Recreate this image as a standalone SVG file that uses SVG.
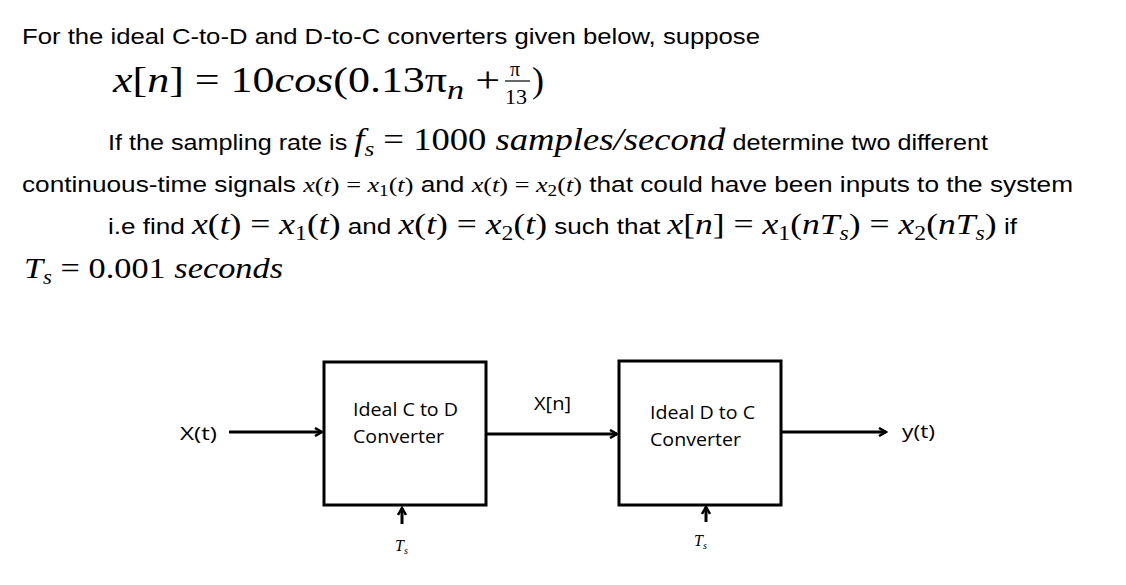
<svg xmlns="http://www.w3.org/2000/svg" width="1126" height="585" viewBox="0 0 1126 585">
<style>
.a{font-family:"Liberation Sans",Arial,sans-serif;font-size:22px;fill:#000}
.t{font-family:"Liberation Serif","Times New Roman",serif;fill:#000}
.i{font-style:italic}
.c{font-family:"Open Sans","Liberation Sans",sans-serif;font-size:18px;fill:#000}
.box{fill:#fff;stroke:#000;stroke-width:3}
.ln{stroke:#000;stroke-width:3;fill:none}
</style>
<defs>
<marker id="ah" markerWidth="10" markerHeight="10" refX="8" refY="5" orient="auto" markerUnits="userSpaceOnUse">
<path d="M1,1 L8,5 L1,9" fill="none" stroke="#000" stroke-width="2.5"/>
</marker>
</defs>
<rect width="1126" height="585" fill="#fff"/>
<text class="a" x="22" y="44" textLength="738" lengthAdjust="spacingAndGlyphs">For the ideal C-to-D and D-to-C converters given below, suppose</text>
<text class="t" x="113" y="92" font-size="36" textLength="387" lengthAdjust="spacingAndGlyphs"><tspan class="i">x</tspan>[<tspan class="i">n</tspan>] = 10<tspan class="i">cos</tspan>(0.13π<tspan class="i" font-size="28" dy="7">n</tspan><tspan dy="-7"> + </tspan></text>
<text class="t" x="510" y="76" font-size="20">π</text>
<line x1="505" y1="81" x2="530" y2="81" stroke="#000" stroke-width="1.2"/>
<text class="t" x="505" y="104" font-size="22">13</text>
<text class="t" x="532" y="92" font-size="36">)</text>
<text class="a" x="108" y="150" textLength="880" lengthAdjust="spacingAndGlyphs">If the sampling rate is <tspan class="t i" font-size="32">f</tspan><tspan class="t i" font-size="22" dy="6">s</tspan><tspan class="t" font-size="32" dy="-6"> =  1000 </tspan><tspan class="t i" font-size="32">samples/second</tspan> determine two different</text>
<text class="a" x="22" y="192" textLength="1051" lengthAdjust="spacingAndGlyphs">continuous-time signals <tspan class="t i">x</tspan><tspan class="t">(</tspan><tspan class="t i">t</tspan><tspan class="t">) = </tspan><tspan class="t i">x</tspan><tspan class="t" font-size="16" dy="4">1</tspan><tspan class="t" dy="-4">(</tspan><tspan class="t i">t</tspan><tspan class="t">)</tspan> and <tspan class="t i">x</tspan><tspan class="t">(</tspan><tspan class="t i">t</tspan><tspan class="t">) = </tspan><tspan class="t i">x</tspan><tspan class="t" font-size="16" dy="4">2</tspan><tspan class="t" dy="-4">(</tspan><tspan class="t i">t</tspan><tspan class="t">)</tspan> that could have been inputs to the system</text>
<text class="a" x="108" y="234" textLength="909" lengthAdjust="spacingAndGlyphs">i.e find <tspan class="t i" font-size="30">x</tspan><tspan class="t" font-size="30">(</tspan><tspan class="t i" font-size="30">t</tspan><tspan class="t" font-size="30">) = </tspan><tspan class="t i" font-size="30">x</tspan><tspan class="t" font-size="20" dy="6">1</tspan><tspan class="t" font-size="30" dy="-6">(</tspan><tspan class="t i" font-size="30">t</tspan><tspan class="t" font-size="30">)</tspan> and <tspan class="t i" font-size="30">x</tspan><tspan class="t" font-size="30">(</tspan><tspan class="t i" font-size="30">t</tspan><tspan class="t" font-size="30">) = </tspan><tspan class="t i" font-size="30">x</tspan><tspan class="t" font-size="20" dy="6">2</tspan><tspan class="t" font-size="30" dy="-6">(</tspan><tspan class="t i" font-size="30">t</tspan><tspan class="t" font-size="30">)</tspan> such that <tspan class="t i" font-size="30">x</tspan><tspan class="t" font-size="30">[</tspan><tspan class="t i" font-size="30">n</tspan><tspan class="t" font-size="30">] = </tspan><tspan class="t i" font-size="30">x</tspan><tspan class="t" font-size="20" dy="6">1</tspan><tspan class="t" font-size="30" dy="-6">(</tspan><tspan class="t i" font-size="30">nT</tspan><tspan class="t i" font-size="20" dy="6">s</tspan><tspan class="t" font-size="30" dy="-6">) = </tspan><tspan class="t i" font-size="30">x</tspan><tspan class="t" font-size="20" dy="6">2</tspan><tspan class="t" font-size="30" dy="-6">(</tspan><tspan class="t i" font-size="30">nT</tspan><tspan class="t i" font-size="20" dy="6">s</tspan><tspan class="t" font-size="30" dy="-6">)</tspan> if</text>
<text class="t" x="24" y="278" font-size="30" textLength="259" lengthAdjust="spacingAndGlyphs"><tspan class="i">T</tspan><tspan class="i" font-size="20" dy="6">s</tspan><tspan dy="-6"> = 0.001 </tspan><tspan class="i">seconds</tspan></text>

<g id="connectors">
<line class="ln" x1="229" y1="432" x2="322" y2="432" marker-end="url(#ah)"/>
<line class="ln" x1="487" y1="434" x2="617" y2="434" marker-end="url(#ah)"/>
<line class="ln" x1="781" y1="432" x2="886" y2="432" marker-end="url(#ah)"/>
<line class="ln" x1="402" y1="524" x2="402" y2="508" marker-end="url(#ah)"/>
<line class="ln" x1="706" y1="522" x2="706" y2="507" marker-end="url(#ah)"/>
</g>
<g id="ctod">
<rect class="box" x="324" y="362" width="162" height="143"/>
<text class="c" x="353" y="416" textLength="105" lengthAdjust="spacingAndGlyphs">Ideal C to D</text>
<text class="c" x="353" y="443" textLength="91" lengthAdjust="spacingAndGlyphs">Converter</text>
</g>
<g id="dtoc">
<rect class="box" x="619" y="361" width="162" height="144"/>
<text class="c" x="650" y="419" textLength="105" lengthAdjust="spacingAndGlyphs">Ideal D to C</text>
<text class="c" x="650" y="446" textLength="91" lengthAdjust="spacingAndGlyphs">Converter</text>
</g>
<g id="labels">
<text class="c" x="180" y="440" textLength="37" lengthAdjust="spacingAndGlyphs">X(t)</text>
<text class="c" x="534" y="410" textLength="37" lengthAdjust="spacingAndGlyphs">X[n]</text>
<text class="c" x="902" y="438" textLength="33" lengthAdjust="spacingAndGlyphs">y(t)</text>
<text class="t i" x="395" y="551" font-size="16">T<tspan font-size="10" dy="3">s</tspan></text>
<text class="t i" x="694" y="546" font-size="16">T<tspan font-size="10" dy="3">s</tspan></text>
</g>
</svg>
